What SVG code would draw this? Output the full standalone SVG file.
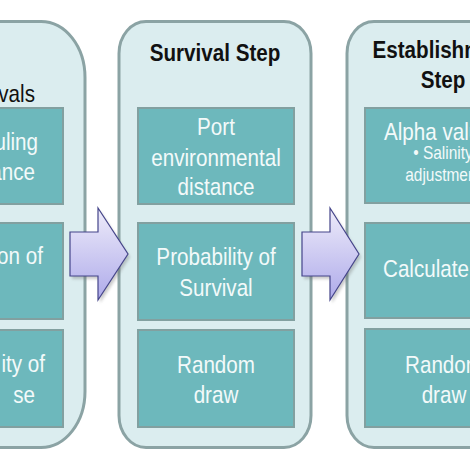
<svg xmlns="http://www.w3.org/2000/svg" width="470" height="470" viewBox="0 0 470 470">
<defs>
<linearGradient id="ag" x1="0" y1="0" x2="0" y2="1">
<stop offset="0" stop-color="#eeecfa"/>
<stop offset="1" stop-color="#aeaaea"/>
</linearGradient>
<filter id="sh" x="-20%" y="-20%" width="140%" height="140%">
<feGaussianBlur stdDeviation="1.5"/>
</filter>
</defs>
<style>
.panel{fill:#dbedef;stroke:#8ba3a4;stroke-width:3}
.box{fill:#6db8bc;stroke:#82a0a0;stroke-width:2}
.t{font-family:"Liberation Sans",Arial,sans-serif;font-size:24px;fill:#f3fafa}
.s{font-family:"Liberation Sans",Arial,sans-serif;font-size:18px;fill:#f3fafa}
.h{font-family:"Liberation Sans",Arial,sans-serif;font-size:24px;font-weight:bold;fill:#111}
.hr{font-family:"Liberation Sans",Arial,sans-serif;font-size:24px;fill:#111}
.arrow{fill:url(#ag);stroke:#45458a;stroke-width:1.2;stroke-linejoin:miter}
.ash{fill:#666;opacity:0.35}
</style>
<rect width="470" height="470" fill="#ffffff"/>

<g id="panel-arrivals">
<rect class="panel" x="-110" y="21.5" width="195" height="426" rx="44" ry="56"/>
<text class="hr" text-anchor="end" transform="translate(35 0) scale(0.86 1)" x="0" y="102">vals</text>
<g id="box-l1">
<rect class="box" x="-93" y="108" width="156" height="96"/>
<text class="t" text-anchor="end" transform="translate(38 0) scale(0.86 1)" x="0" y="150">uling</text>
<text class="t" text-anchor="end" transform="translate(35 0) scale(0.86 1)" x="0" y="180">ance</text>
</g>
<g id="box-l2">
<rect class="box" x="-93" y="223" width="156" height="96"/>
<text class="t" text-anchor="end" transform="translate(43 0) scale(0.86 1)" x="0" y="264">on of</text>
</g>
<g id="box-l3">
<rect class="box" x="-93" y="330" width="156" height="97"/>
<text class="t" text-anchor="end" transform="translate(45 0) scale(0.86 1)" x="0" y="372">ity of</text>
<text class="t" text-anchor="end" transform="translate(35 0) scale(0.86 1)" x="0" y="403">se</text>
</g>
</g>

<g id="panel-survival">
<rect class="panel" x="119" y="21.5" width="192" height="426" rx="27" ry="32"/>
<text class="h" text-anchor="middle" transform="translate(215 0) scale(0.86 1)" x="0" y="61">Survival Step</text>
<g id="box-m1">
<rect class="box" x="138" y="108" width="156" height="96"/>
<text class="t" text-anchor="middle" transform="translate(216 0) scale(0.86 1)" x="0" y="135">Port</text>
<text class="t" text-anchor="middle" transform="translate(216 0) scale(0.86 1)" x="0" y="166">environmental</text>
<text class="t" text-anchor="middle" transform="translate(216 0) scale(0.86 1)" x="0" y="195">distance</text>
</g>
<g id="box-m2">
<rect class="box" x="138" y="223" width="156" height="97"/>
<text class="t" text-anchor="middle" transform="translate(216 0) scale(0.86 1)" x="0" y="265">Probability of</text>
<text class="t" text-anchor="middle" transform="translate(216 0) scale(0.86 1)" x="0" y="296">Survival</text>
</g>
<g id="box-m3">
<rect class="box" x="138" y="330" width="156" height="97"/>
<text class="t" text-anchor="middle" transform="translate(216 0) scale(0.86 1)" x="0" y="373">Random</text>
<text class="t" text-anchor="middle" transform="translate(216 0) scale(0.86 1)" x="0" y="403">draw</text>
</g>
</g>

<g id="panel-establishment">
<rect class="panel" x="347" y="21.5" width="192" height="426" rx="27" ry="32"/>
<text class="h" text-anchor="middle" transform="translate(443 0) scale(0.86 1)" x="0" y="58">Establishment</text>
<text class="h" text-anchor="middle" transform="translate(443 0) scale(0.86 1)" x="0" y="88">Step</text>
<g id="box-r1">
<rect class="box" x="365" y="108" width="156" height="95"/>
<text class="t" text-anchor="middle" transform="translate(443 0) scale(0.86 1)" x="0" y="140">Alpha values</text>
<text class="s" text-anchor="middle" transform="translate(443 0) scale(0.86 1)" x="0" y="159">• Salinity</text>
<text class="s" text-anchor="middle" transform="translate(443 0) scale(0.86 1)" x="0" y="181">adjustment</text>
</g>
<g id="box-r2">
<rect class="box" x="365" y="223" width="156" height="95"/>
<text class="t" text-anchor="start" transform="translate(383 0) scale(0.86 1)" x="0" y="277">Calculate</text>
</g>
<g id="box-r3">
<rect class="box" x="365" y="329" width="156" height="98"/>
<text class="t" text-anchor="middle" transform="translate(444 0) scale(0.86 1)" x="0" y="373">Random</text>
<text class="t" text-anchor="middle" transform="translate(444 0) scale(0.86 1)" x="0" y="403">draw</text>
</g>
</g>

<g id="connectors">
<path class="ash" filter="url(#sh)" d="M72,235 H100 V211 L130,257 L100,303 V279 H72 Z"/>
<path class="arrow" d="M70,232 H98 V208 L128,254 L98,300 V276 H70 Z"/>
<path class="ash" filter="url(#sh)" d="M304,235 H332 V211 L361,257 L332,303 V279 H304 Z"/>
<path class="arrow" d="M302,232 H330 V208 L359,254 L330,300 V276 H302 Z"/>
</g>
</svg>
